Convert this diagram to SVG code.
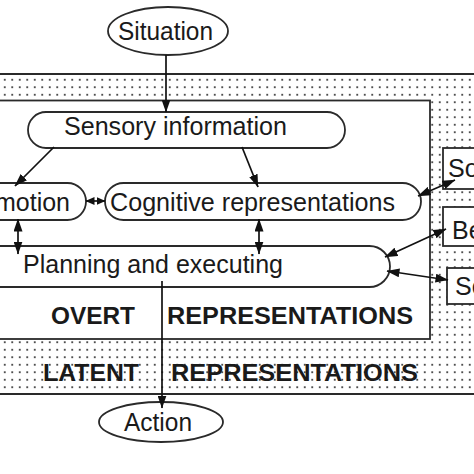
<svg xmlns="http://www.w3.org/2000/svg" width="474" height="474" viewBox="0 0 474 474">
<defs>
<pattern id="dots" width="7.5" height="7.5" patternUnits="userSpaceOnUse" x="1" y="1">
<circle cx="3.75" cy="3.75" r="1" fill="#222"/>
</pattern>
<marker id="ah" markerUnits="userSpaceOnUse" markerWidth="13" markerHeight="9" refX="12.5" refY="4.5" orient="auto-start-reverse">
<path d="M0,0 L13,4.5 L0,9 z" fill="#111"/>
</marker>
<marker id="ahs" markerUnits="userSpaceOnUse" markerWidth="9" markerHeight="8" refX="8.5" refY="4" orient="auto-start-reverse">
<path d="M0,0 L9,4 L0,8 z" fill="#111"/>
</marker>
</defs>
<style>
.box{fill:#fff;stroke:#2a2a2a;stroke-width:1.8}
.t{font-family:"Liberation Sans",Arial,sans-serif;font-size:25px;fill:#1a1a1a}
.b{font-family:"Liberation Sans",Arial,sans-serif;font-size:24px;font-weight:bold;fill:#1a1a1a}
.c{stroke:#111;stroke-width:1.7;fill:none}
</style>
<rect x="0" y="0" width="474" height="474" fill="#fff"/>
<g id="latent">
<rect x="-10" y="74" width="500" height="320" fill="url(#dots)" stroke="#2a2a2a" stroke-width="2"/>
<text class="b" x="43" y="381" textLength="96" lengthAdjust="spacingAndGlyphs">LATENT</text>
<text class="b" x="171" y="381" textLength="247" lengthAdjust="spacingAndGlyphs">REPRESENTATIONS</text>
</g>
<g id="overt">
<rect x="-10" y="100.5" width="440" height="238.5" fill="#fff" stroke="#2a2a2a" stroke-width="1.8"/>
<text class="b" x="51" y="324" textLength="84" lengthAdjust="spacingAndGlyphs">OVERT</text>
<text class="b" x="167" y="324" textLength="246" lengthAdjust="spacingAndGlyphs">REPRESENTATIONS</text>
</g>
<g id="situation">
<ellipse class="box" cx="168" cy="31" rx="60" ry="24"/>
<text class="t" x="118" y="40" textLength="95" lengthAdjust="spacingAndGlyphs">Situation</text>
</g>
<g id="sensory">
<rect class="box" x="28" y="112" width="317" height="36" rx="18"/>
<text class="t" x="64" y="135" textLength="223" lengthAdjust="spacingAndGlyphs">Sensory information</text>
</g>
<g id="emotion">
<rect class="box" x="-40" y="183" width="126" height="37" rx="18.5"/>
<text class="t" x="70" y="211" text-anchor="end">Emotion</text>
</g>
<g id="cognitive">
<rect class="box" x="105" y="183" width="316" height="37" rx="18.5"/>
<text class="t" x="110" y="211" textLength="285" lengthAdjust="spacingAndGlyphs">Cognitive representations</text>
</g>
<g id="planning">
<rect class="box" x="-40" y="246" width="430" height="41" rx="20.5"/>
<text class="t" x="23" y="273" textLength="260" lengthAdjust="spacingAndGlyphs">Planning and executing</text>
</g>
<g id="so1">
<rect class="box" x="443" y="148" width="60" height="41"/>
<text class="t" x="448" y="177">So</text>
</g>
<g id="be">
<rect class="box" x="443" y="207" width="60" height="39"/>
<text class="t" x="452" y="239">Be</text>
</g>
<g id="so2">
<rect class="box" x="447" y="268" width="60" height="36"/>
<text class="t" x="455" y="295">So</text>
</g>
<g id="action">
<ellipse class="box" cx="161" cy="422" rx="62" ry="20"/>
<text class="t" x="124" y="431" textLength="68" lengthAdjust="spacingAndGlyphs">Action</text>
</g>
<g id="connectors">
<line class="c" x1="166" y1="55" x2="166" y2="112" marker-end="url(#ah)"/>
<line class="c" x1="54" y1="147" x2="15" y2="186" marker-end="url(#ah)"/>
<line class="c" x1="242" y1="147" x2="258" y2="187" marker-end="url(#ah)"/>
<line class="c" x1="86" y1="201" x2="105" y2="201" marker-start="url(#ahs)" marker-end="url(#ahs)"/>
<line class="c" x1="18" y1="219" x2="18" y2="254" marker-start="url(#ah)" marker-end="url(#ah)"/>
<line class="c" x1="259" y1="219" x2="259" y2="254" marker-start="url(#ah)" marker-end="url(#ah)"/>
<line class="c" x1="418" y1="196" x2="455" y2="180" marker-start="url(#ah)" marker-end="url(#ah)"/>
<line class="c" x1="385" y1="257" x2="446" y2="229" marker-start="url(#ah)" marker-end="url(#ah)"/>
<line class="c" x1="387" y1="271" x2="448" y2="280" marker-start="url(#ah)" marker-end="url(#ah)"/>
<line class="c" x1="162" y1="281" x2="162" y2="408" marker-end="url(#ah)"/>
</g>
</svg>
